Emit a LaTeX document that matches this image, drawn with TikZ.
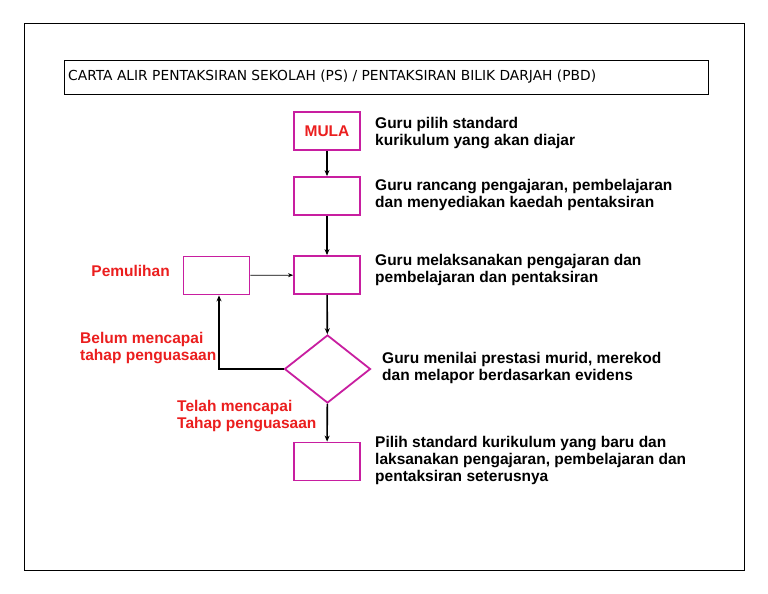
\documentclass[tikz,border=0pt]{standalone}
\usepackage{fontspec}
\setmainfont{Liberation Sans}
\newfontfamily\titlefont{DejaVu Sans}
\usetikzlibrary{shapes.geometric,arrows.meta}
\definecolor{mag}{RGB}{200,30,160}
\definecolor{red1}{RGB}{235,30,30}
\begin{document}
\begin{tikzpicture}[x=1pt,y=-1pt,
  box/.style={draw=mag,line width=1.8pt,minimum width=66pt,minimum height=38pt,inner sep=0},
  lbl/.style={font=\bfseries\fontsize{15.5}{17}\selectfont,align=left,anchor=west},
  rlbl/.style={font=\bfseries\fontsize{15.5}{17}\selectfont,text=red1,align=left},
  ar/.style={line width=1.6pt,-{Stealth[length=6pt,width=5pt]}}]
\useasboundingbox (0,0) rectangle (768,594);
\fill[white] (0,0) rectangle (768,594);
\draw[line width=1pt] (24,24) rectangle (744,570);
\node[draw,line width=1.4pt,minimum width=644pt,minimum height=34pt,anchor=north west,inner sep=4pt] (title) at (64,60) {};
\node[anchor=west,inner sep=0,font=\titlefont\fontsize{13.8}{15}\selectfont] (tt) at (68,77) {CARTA ALIR PENTAKSIRAN SEKOLAH (PS) / PENTAKSIRAN BILIK DARJAH (PBD)};
\node[box,text=red1,font=\bfseries\fontsize{15.5}{17}\selectfont] (mula) at (327,131) {MULA};
\node[box] (b2) at (327,196) {};
\node[box] (b3) at (327,275) {};
\node[box] (pem) at (216.5,275.5) {};
\node[diamond,draw=mag,line width=1.8pt,minimum width=86pt,minimum height=68pt,inner sep=0,aspect=1.26] (d) at (327.5,369) {};
\node[box] (b5) at (327,461.5) {};
\draw[ar] (mula) -- (b2);
\draw[ar] (b2) -- (b3);
\draw[ar] (b3) -- (d);
\draw[ar] (d) -- (b5);
\draw[line width=0.7pt,-{Stealth[length=5pt,width=4pt]}] (pem) -- (b3);
\coordinate (c1) at (219,369);
\draw[ar] (d.west) -- (c1) -- (c1 |- pem.south);
\node[lbl,inner sep=0] (t1) at (375,133) {Guru pilih standard\\kurikulum yang akan diajar};
\node[lbl,inner sep=0] (t2) at (375,195) {Guru rancang pengajaran, pembelajaran\\dan menyediakan kaedah pentaksiran};
\node[lbl,inner sep=0] (t3) at (375,270) {Guru melaksanakan pengajaran dan\\pembelajaran dan pentaksiran};
\node[lbl,inner sep=0] (t4) at (382,368) {Guru menilai prestasi murid, merekod\\dan melapor berdasarkan evidens};
\node[lbl,inner sep=0] (t5) at (375,460) {Pilih standard kurikulum yang baru dan\\laksanakan pengajaran, pembelajaran dan\\pentaksiran seterusnya};
\node[rlbl,anchor=east,inner sep=0] (r1) at (170,271) {Pemulihan};
\node[rlbl,anchor=west,inner sep=0] (r2) at (80,348) {Belum mencapai\\tahap penguasaan};
\node[rlbl,anchor=west,inner sep=0] (r3) at (177,416) {Telah mencapai\\Tahap penguasaan};
\end{tikzpicture}
\end{document}
